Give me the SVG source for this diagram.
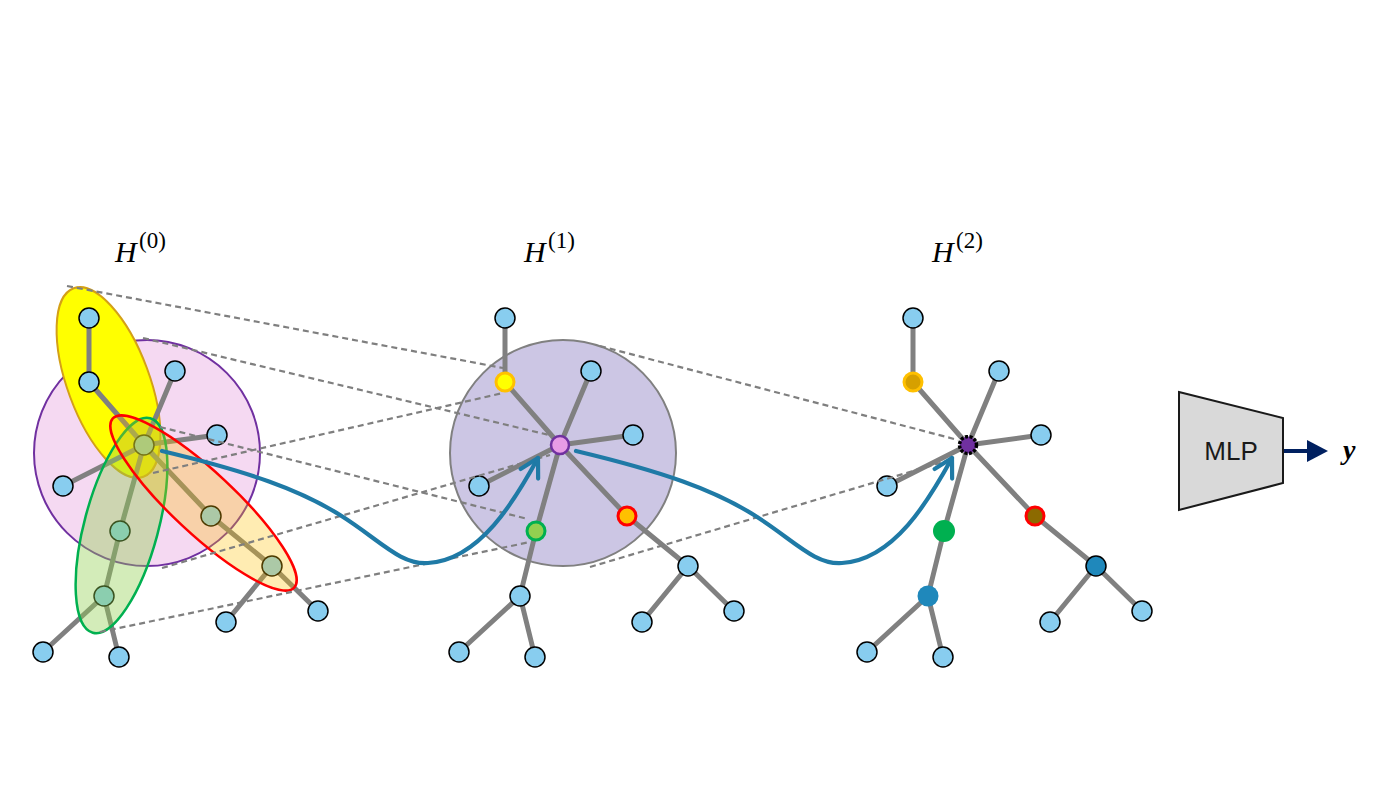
<svg xmlns="http://www.w3.org/2000/svg" width="1400" height="787" viewBox="0 0 1400 787">
<defs>
<style>
.e{stroke:#808080;stroke-width:5;stroke-linecap:round}
.n{fill:#88cdef;stroke:#000;stroke-width:1.5}
.d{stroke:#7f7f7f;stroke-width:2.2;stroke-dasharray:6,4;fill:none}
.c{stroke:#1f7aa6;stroke-width:4.2;fill:none;stroke-linecap:round}
.lbl{font-family:"Liberation Serif",serif;fill:#000}
</style>
<marker id="chev" markerUnits="userSpaceOnUse" orient="auto" markerWidth="30" markerHeight="30" refX="0" refY="0" viewBox="-20 -15 30 30" overflow="visible">
<path d="M-18,-10 L0,0 L-18,10" fill="none" stroke="#1f7aa6" stroke-width="4.2" stroke-linecap="round" stroke-linejoin="round"/>
</marker>
</defs>
<rect width="1400" height="787" fill="#fff"/>

<!-- H0 background regions -->
<g id="h0-region">
<circle cx="147" cy="453" r="113" fill="#f5d9f2" stroke="#7030a0" stroke-width="2"/>
<ellipse cx="108.5" cy="382.5" rx="41" ry="100.5" transform="rotate(-20.3 108.5 382.5)" fill="#ffff00" stroke="#d4a017" stroke-width="2"/>
</g>
<g id="h1-region">
<circle cx="563" cy="453" r="113" fill="#ccc6e4" stroke="#808080" stroke-width="2"/>
</g>

<g id="connectors">
<!-- H0 -->
<g>
<line class="e" x1="89" y1="318" x2="89" y2="382"/>
<line class="e" x1="89" y1="382" x2="144" y2="445"/>
<line class="e" x1="144" y1="445" x2="175" y2="371"/>
<line class="e" x1="144" y1="445" x2="217" y2="435"/>
<line class="e" x1="144" y1="445" x2="63" y2="486"/>
<line class="e" x1="144" y1="445" x2="120" y2="531"/>
<line class="e" x1="120" y1="531" x2="104" y2="596"/>
<line class="e" x1="104" y1="596" x2="43" y2="652"/>
<line class="e" x1="104" y1="596" x2="119" y2="657"/>
<line class="e" x1="144" y1="445" x2="211" y2="516"/>
<line class="e" x1="211" y1="516" x2="272" y2="566"/>
<line class="e" x1="272" y1="566" x2="226" y2="622"/>
<line class="e" x1="272" y1="566" x2="318" y2="611"/>
</g>
<!-- H1 -->
<g>
<line class="e" x1="505" y1="318" x2="505" y2="382"/>
<line class="e" x1="505" y1="382" x2="560" y2="445"/>
<line class="e" x1="560" y1="445" x2="591" y2="371"/>
<line class="e" x1="560" y1="445" x2="633" y2="435"/>
<line class="e" x1="560" y1="445" x2="479" y2="486"/>
<line class="e" x1="560" y1="445" x2="536" y2="531"/>
<line class="e" x1="536" y1="531" x2="520" y2="596"/>
<line class="e" x1="520" y1="596" x2="459" y2="652"/>
<line class="e" x1="520" y1="596" x2="535" y2="657"/>
<line class="e" x1="560" y1="445" x2="627" y2="516"/>
<line class="e" x1="627" y1="516" x2="688" y2="566"/>
<line class="e" x1="688" y1="566" x2="642" y2="622"/>
<line class="e" x1="688" y1="566" x2="734" y2="611"/>
</g>
<!-- H2 -->
<g>
<line class="e" x1="913" y1="318" x2="913" y2="382"/>
<line class="e" x1="913" y1="382" x2="968" y2="445"/>
<line class="e" x1="968" y1="445" x2="999" y2="371"/>
<line class="e" x1="968" y1="445" x2="1041" y2="435"/>
<line class="e" x1="968" y1="445" x2="887" y2="486"/>
<line class="e" x1="968" y1="445" x2="944" y2="531"/>
<line class="e" x1="944" y1="531" x2="928" y2="596"/>
<line class="e" x1="928" y1="596" x2="867" y2="652"/>
<line class="e" x1="928" y1="596" x2="943" y2="657"/>
<line class="e" x1="968" y1="445" x2="1035" y2="516"/>
<line class="e" x1="1035" y1="516" x2="1096" y2="566"/>
<line class="e" x1="1096" y1="566" x2="1050" y2="622"/>
<line class="e" x1="1096" y1="566" x2="1142" y2="611"/>
</g>
</g>

<!-- H0 nodes -->
<g id="h0-nodes">
<g id="h0-n0"><circle class="n" cx="144" cy="445" r="10"/></g>
<g id="h0-n1"><circle class="n" cx="89" cy="318" r="10"/></g>
<g id="h0-n2"><circle class="n" cx="89" cy="382" r="10"/></g>
<g id="h0-n3"><circle class="n" cx="175" cy="371" r="10"/></g>
<g id="h0-n4"><circle class="n" cx="217" cy="435" r="10"/></g>
<g id="h0-n5"><circle class="n" cx="63" cy="486" r="10"/></g>
<g id="h0-n6"><circle class="n" cx="120" cy="531" r="10"/></g>
<g id="h0-n7"><circle class="n" cx="104" cy="596" r="10"/></g>
<g id="h0-n8"><circle class="n" cx="211" cy="516" r="10"/></g>
<g id="h0-n9"><circle class="n" cx="272" cy="566" r="10"/></g>
<g id="h0-n10"><circle class="n" cx="43" cy="652" r="10"/></g>
<g id="h0-n11"><circle class="n" cx="119" cy="657" r="10"/></g>
<g id="h0-n12"><circle class="n" cx="226" cy="622" r="10"/></g>
<g id="h0-n13"><circle class="n" cx="318" cy="611" r="10"/></g>
</g>
<g id="h0-overlays">
<ellipse cx="121.5" cy="525.5" rx="37" ry="111" transform="rotate(15 121.5 525.5)" fill="#92d050" fill-opacity="0.4" stroke="#00b050" stroke-width="2.5"/>
<ellipse cx="203.5" cy="503" rx="124" ry="31" transform="rotate(43 203.5 503)" fill="#ffc000" fill-opacity="0.3" stroke="#ff0000" stroke-width="2.5"/>
</g>

<!-- H1 nodes -->
<g id="h1-nodes">
<g id="h1-n0"><circle cx="560" cy="445" r="9" fill="#e89be6" stroke="#7030a0" stroke-width="2.5"/></g>
<g id="h1-n1"><circle class="n" cx="505" cy="318" r="10"/></g>
<g id="h1-n2"><circle cx="505" cy="382" r="9" fill="#ffff00" stroke="#ffc000" stroke-width="3"/></g>
<g id="h1-n3"><circle class="n" cx="591" cy="371" r="10"/></g>
<g id="h1-n4"><circle class="n" cx="633" cy="435" r="10"/></g>
<g id="h1-n5"><circle class="n" cx="479" cy="486" r="10"/></g>
<g id="h1-n6"><circle cx="536" cy="531" r="9" fill="#92d050" stroke="#00b050" stroke-width="3"/></g>
<g id="h1-n7"><circle class="n" cx="520" cy="596" r="10"/></g>
<g id="h1-n8"><circle cx="627" cy="516" r="9" fill="#ffc000" stroke="#ff0000" stroke-width="3"/></g>
<g id="h1-n9"><circle class="n" cx="688" cy="566" r="10"/></g>
<g id="h1-n10"><circle class="n" cx="459" cy="652" r="10"/></g>
<g id="h1-n11"><circle class="n" cx="535" cy="657" r="10"/></g>
<g id="h1-n12"><circle class="n" cx="642" cy="622" r="10"/></g>
<g id="h1-n13"><circle class="n" cx="734" cy="611" r="10"/></g>
</g>

<!-- H2 nodes -->
<g id="h2-nodes">
<g id="h2-n0"><circle cx="968" cy="445" r="8.5" fill="#7030a0" stroke="#000" stroke-width="3.5" stroke-dasharray="3,1.6"/></g>
<g id="h2-n1"><circle class="n" cx="913" cy="318" r="10"/></g>
<g id="h2-n2"><circle cx="913" cy="382" r="9" fill="#d6a000" stroke="#ffc000" stroke-width="3"/></g>
<g id="h2-n3"><circle class="n" cx="999" cy="371" r="10"/></g>
<g id="h2-n4"><circle class="n" cx="1041" cy="435" r="10"/></g>
<g id="h2-n5"><circle class="n" cx="887" cy="486" r="10"/></g>
<g id="h2-n6"><circle cx="944" cy="531" r="11" fill="#00b050"/></g>
<g id="h2-n7"><circle cx="928" cy="596" r="10.5" fill="#1f88bb"/></g>
<g id="h2-n8"><circle cx="1035" cy="516" r="9" fill="#8c6a00" stroke="#ff0000" stroke-width="3"/></g>
<g id="h2-n9"><circle cx="1096" cy="566" r="10" fill="#1f88bb" stroke="#000" stroke-width="1.5"/></g>
<g id="h2-n10"><circle class="n" cx="867" cy="652" r="10"/></g>
<g id="h2-n11"><circle class="n" cx="943" cy="657" r="10"/></g>
<g id="h2-n12"><circle class="n" cx="1050" cy="622" r="10"/></g>
<g id="h2-n13"><circle class="n" cx="1142" cy="611" r="10"/></g>
</g>

<g id="projections">
<line class="d" x1="67" y1="286" x2="503" y2="368"/>
<line class="d" x1="143" y1="338" x2="549" y2="435"/>
<line class="d" x1="160" y1="427" x2="528" y2="519"/>
<line class="d" x1="153" y1="473" x2="503" y2="393"/>
<line class="d" x1="162" y1="568" x2="550" y2="455"/>
<line class="d" x1="100" y1="632" x2="530" y2="542"/>
<line class="d" x1="600" y1="346" x2="958" y2="440"/>
<line class="d" x1="590" y1="567" x2="950" y2="460"/>
<path class="c" d="M162,451 C250,472 300,490 340,515 C380,540 400,565 428,563 C480,560 515,500 538,458" marker-end="url(#chev)"/>
<path class="c" d="M576,451 C664,472 714,490 754,515 C794,540 814,565 842,563 C894,560 929,500 952,458" marker-end="url(#chev)"/>
</g>

<g id="labels">
<text class="lbl" x="115" y="262" font-size="30" font-style="italic">H</text>
<text class="lbl" x="139" y="248" font-size="23">(0)</text>
<text class="lbl" x="524" y="262" font-size="30" font-style="italic">H</text>
<text class="lbl" x="548" y="248" font-size="23">(1)</text>
<text class="lbl" x="932" y="262" font-size="30" font-style="italic">H</text>
<text class="lbl" x="956" y="248" font-size="23">(2)</text>
</g>

<g id="mlp">
<polygon points="1179,392 1283,418 1283,483 1179,510" fill="#d9d9d9" stroke="#1a1a1a" stroke-width="2"/>
<text x="1231" y="460" font-family="Liberation Sans, Arial, sans-serif" font-size="26" text-anchor="middle" fill="#1a1a1a">MLP</text>
</g>
<g id="output-arrow">
<line x1="1284" y1="451" x2="1310" y2="451" stroke="#002060" stroke-width="4"/>
<polygon points="1307,440 1328,451 1307,462" fill="#002060"/>
</g>
<g id="output-y">
<text class="lbl" x="1343" y="459" font-size="28" font-style="italic" font-weight="bold">y</text>
</g>
</svg>
